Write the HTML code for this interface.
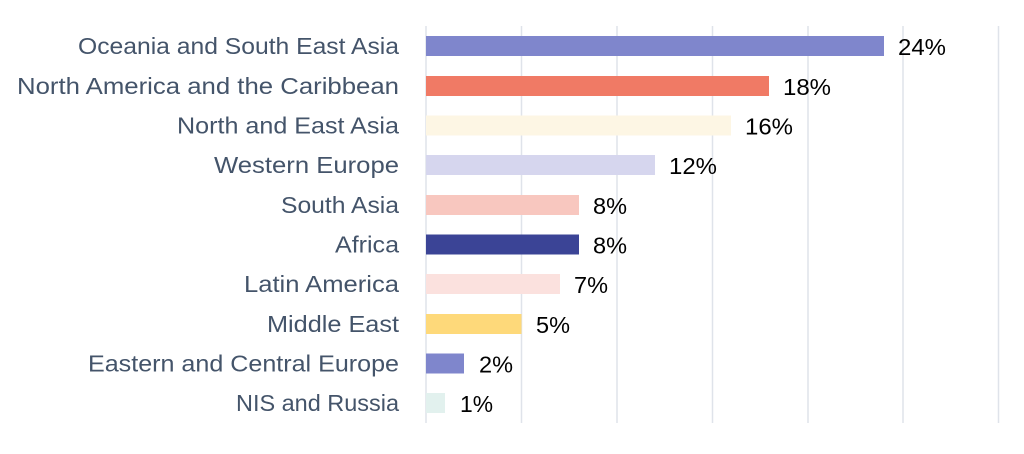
<!DOCTYPE html>
<html><head><meta charset="utf-8"><style>
body{margin:0;background:#fff;}
svg text{font-family:"Liberation Sans",sans-serif;}
</style></head><body>
<svg width="1024" height="449" xmlns="http://www.w3.org/2000/svg">
<g stroke="#dfe3ea" stroke-width="1.5">
<line x1="426" y1="26" x2="426" y2="423"/>
<line x1="521.5" y1="26" x2="521.5" y2="423"/>
<line x1="617" y1="26" x2="617" y2="423"/>
<line x1="712.5" y1="26" x2="712.5" y2="423"/>
<line x1="808" y1="26" x2="808" y2="423"/>
<line x1="903" y1="26" x2="903" y2="423"/>
<line x1="998.5" y1="26" x2="998.5" y2="423"/>
</g>
<g>
<rect x="426" y="36" width="458" height="20" fill="#7f86cc"/>
<rect x="426" y="76" width="343" height="20" fill="#f07a65"/>
<rect x="426" y="115.5" width="305" height="20" fill="#fdf6e4"/>
<rect x="426" y="155" width="229" height="20" fill="#d6d6ee"/>
<rect x="426" y="195" width="153" height="20" fill="#f8c7bf"/>
<rect x="426" y="234.5" width="153" height="20" fill="#3b4496"/>
<rect x="426" y="274" width="134" height="20" fill="#fbe1de"/>
<rect x="426" y="314" width="95.5" height="20" fill="#fed97a"/>
<rect x="426" y="353.5" width="38" height="20" fill="#7f86cc"/>
<rect x="426" y="393" width="19" height="20" fill="#e2f1ee"/>
</g>
<g font-size="23" fill="#44546a" text-anchor="end">
<text x="399" y="54" textLength="321" lengthAdjust="spacingAndGlyphs">Oceania and South East Asia</text>
<text x="399" y="94" textLength="382" lengthAdjust="spacingAndGlyphs">North America and the Caribbean</text>
<text x="399" y="133.5" textLength="222" lengthAdjust="spacingAndGlyphs">North and East Asia</text>
<text x="399" y="173" textLength="185" lengthAdjust="spacingAndGlyphs">Western Europe</text>
<text x="399" y="213" textLength="118" lengthAdjust="spacingAndGlyphs">South Asia</text>
<text x="399" y="252.5" textLength="64" lengthAdjust="spacingAndGlyphs">Africa</text>
<text x="399" y="292" textLength="155" lengthAdjust="spacingAndGlyphs">Latin America</text>
<text x="399" y="332" textLength="132" lengthAdjust="spacingAndGlyphs">Middle East</text>
<text x="399" y="371.5" textLength="311" lengthAdjust="spacingAndGlyphs">Eastern and Central Europe</text>
<text x="399" y="411" textLength="163" lengthAdjust="spacingAndGlyphs">NIS and Russia</text>
</g>
<g font-size="23" fill="#000">
<text x="898" y="55" textLength="48" lengthAdjust="spacingAndGlyphs">24%</text>
<text x="783" y="95" textLength="48" lengthAdjust="spacingAndGlyphs">18%</text>
<text x="745" y="134.5" textLength="48" lengthAdjust="spacingAndGlyphs">16%</text>
<text x="669" y="174" textLength="48" lengthAdjust="spacingAndGlyphs">12%</text>
<text x="593" y="214" textLength="34" lengthAdjust="spacingAndGlyphs">8%</text>
<text x="593" y="253.5" textLength="34" lengthAdjust="spacingAndGlyphs">8%</text>
<text x="574" y="293" textLength="34" lengthAdjust="spacingAndGlyphs">7%</text>
<text x="536" y="333" textLength="34" lengthAdjust="spacingAndGlyphs">5%</text>
<text x="479" y="372.5" textLength="34" lengthAdjust="spacingAndGlyphs">2%</text>
<text x="460" y="412" textLength="33" lengthAdjust="spacingAndGlyphs">1%</text>
</g>
</svg>
</body></html>
